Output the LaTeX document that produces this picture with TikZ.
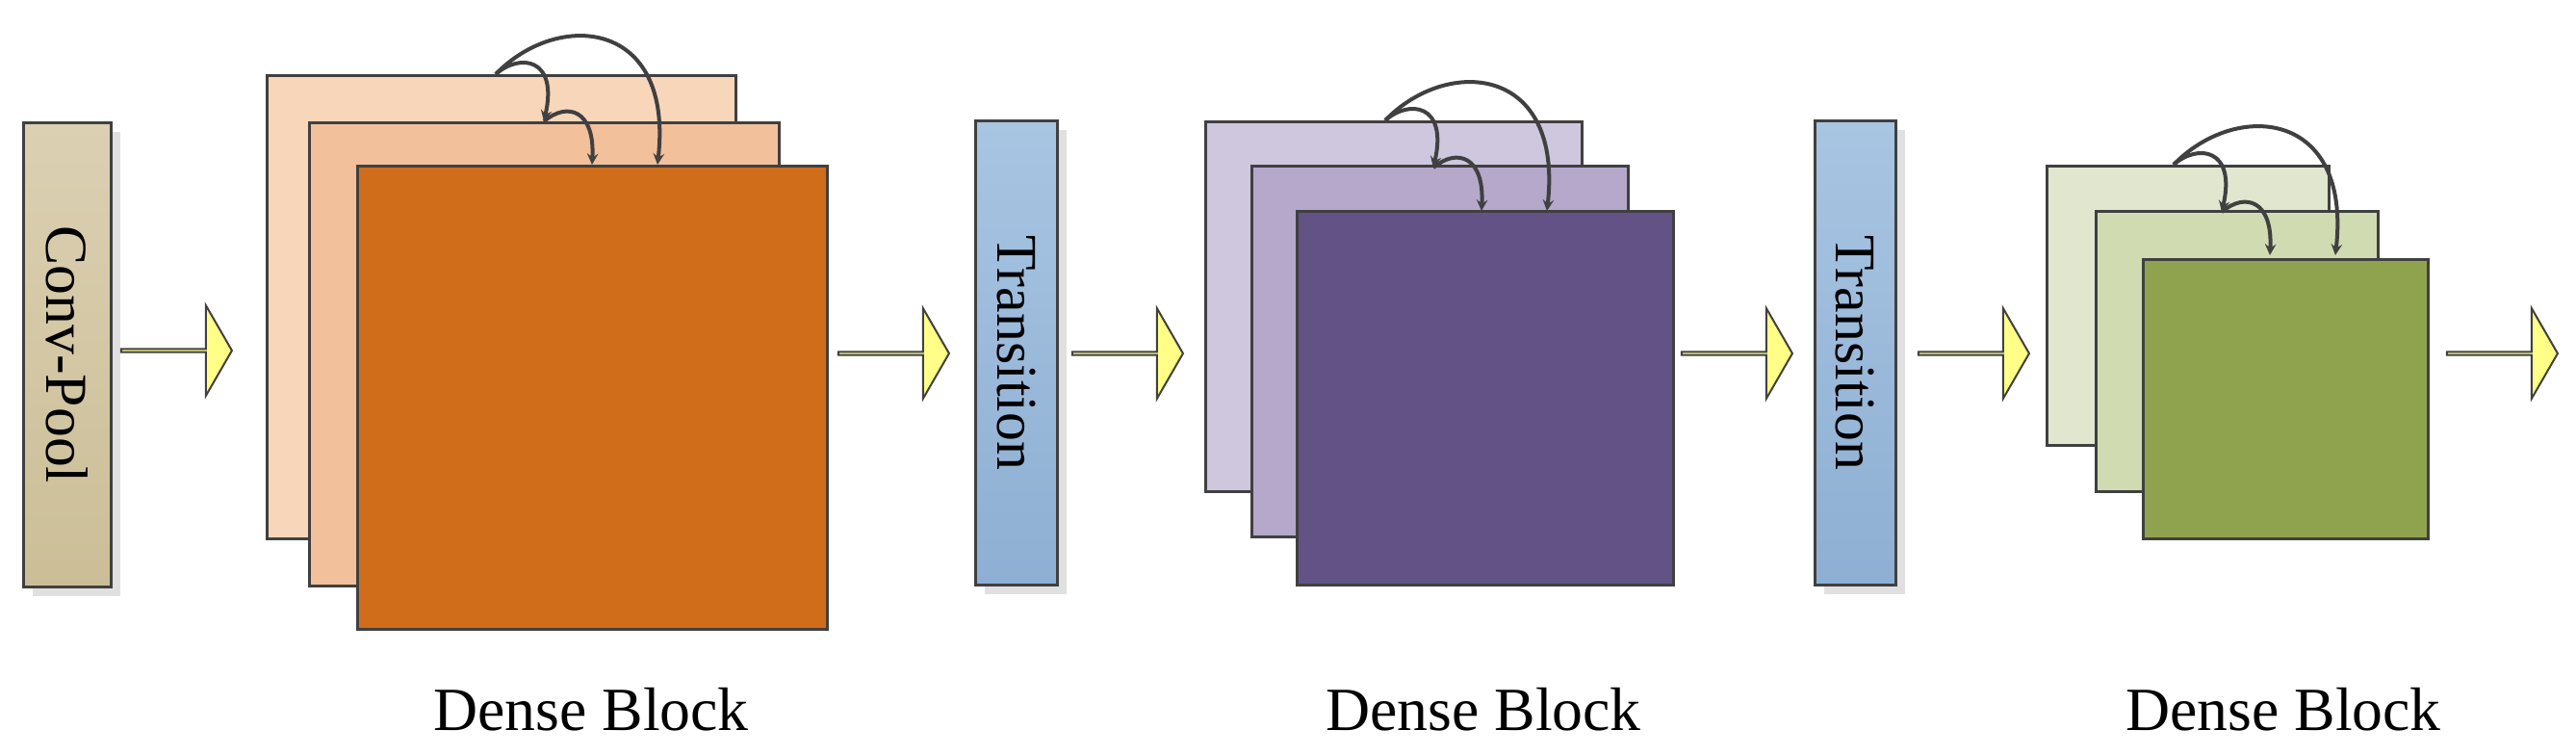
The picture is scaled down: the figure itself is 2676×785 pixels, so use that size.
\documentclass[tikz,border=0pt]{standalone}
\usepackage{fontspec}
\setmainfont{Liberation Serif}
\usetikzlibrary{positioning,calc,shapes.arrows,shadows}

\definecolor{edge}{HTML}{404040}
\definecolor{poolA}{HTML}{DBD0B2}
\definecolor{poolB}{HTML}{CBBE97}
\definecolor{transA}{HTML}{A8C5E2}
\definecolor{transB}{HTML}{8EAFD3}
\definecolor{arrowfill}{HTML}{FFFF88}
\definecolor{orA}{HTML}{F7D6BA}
\definecolor{orB}{HTML}{F2C09A}
\definecolor{orC}{HTML}{D06D1B}
\definecolor{vioA}{HTML}{CFC7DE}
\definecolor{vioB}{HTML}{B5A8CB}
\definecolor{vioC}{HTML}{635286}
\definecolor{grA}{HTML}{E1E7CF}
\definecolor{grB}{HTML}{D1DBB2}
\definecolor{grC}{HTML}{8FA34F}

\tikzset{
  bar/.style={draw=edge,line width=2.5bp,anchor=north west,inner sep=0pt,
    minimum width=#1,minimum height=482bp,
    drop shadow={shadow xshift=10bp,shadow yshift=-10bp,fill=black!12,opacity=1}},
  layer/.style={draw=edge,line width=2.5bp,anchor=north west,inner sep=0pt},
  flow/.style={single arrow,draw=edge,line width=2bp,fill=arrowfill,inner sep=0pt,
    minimum height=115bp,minimum width=94bp,single arrow head extend=30bp,
    single arrow tip angle=120},
  skip/.style={->,>=stealth,draw=edge,line width=4bp},
  caption/.style={font=\fontsize{64}{70}\selectfont}
}

\begin{document}
\begin{tikzpicture}[x=1bp,y=-1bp]
\useasboundingbox (0,0) rectangle (2676,785);

% input and transitions
\node[bar=91bp,top color=poolA,bottom color=poolB] (pool) at (23,126)
  {\rotatebox{-90}{\fontsize{62}{70}\selectfont Conv-Pool}};
\node[bar=85bp,top color=transA,bottom color=transB] (trans1) at (1012,124)
  {\rotatebox{-90}{\fontsize{60}{70}\selectfont Transition}};
\node[bar=84bp,top color=transA,bottom color=transB] (trans2) at (1884,124)
  {\rotatebox{-90}{\fontsize{60}{70}\selectfont Transition}};

% dense block 1
\node[layer,fill=orA,minimum width=487bp,minimum height=481bp] (b1a) at (276,77) {};
\node[layer,fill=orB,minimum width=488bp,minimum height=481bp] (b1b) at (320,126) {};
\node[layer,fill=orC,minimum width=488bp,minimum height=481bp] (b1c) at (370,171) {};
% dense block 2
\node[layer,fill=vioA,minimum width=391bp,minimum height=384bp] (b2a) at (1251,125) {};
\node[layer,fill=vioB,minimum width=391bp,minimum height=385bp] (b2b) at (1299,171) {};
\node[layer,fill=vioC,minimum width=391bp,minimum height=388bp] (b2c) at (1346,218) {};
% dense block 3
\node[layer,fill=grA,minimum width=293bp,minimum height=290bp] (b3a) at (2125,171) {};
\node[layer,fill=grB,minimum width=293bp,minimum height=291bp] (b3b) at (2176,218) {};
\node[layer,fill=grC,minimum width=296bp,minimum height=290bp] (b3c) at (2225,268) {};

% flow arrows
\node[flow] (f1) at (183,364) {};
\node[flow] (f2) at (928,367) {};
\node[flow] (f3) at (1171,367) {};
\node[flow] (f4) at (1804,367) {};
\node[flow] (f5) at (2050,367) {};
\node[flow] (f6) at (2599,367) {};

% skip connections
\foreach \blk/\sx in {b1a/239,b2a/188,b3a/133}{
  \coordinate (s) at ($(\blk.north west)+(\sx,0)$);
  \draw[skip] (s) .. controls ($(s)+(25,-22)$) and ($(s)+(65,-17)$) .. ($(s)+(50,49)$);
  \draw[skip] ($(s)+(50,49)$) .. controls ($(s)+(75,28)$) and ($(s)+(103,38)$) .. ($(s)+(100,94)$);
  \draw[skip] (s) .. controls ($(s)+(65,-67)$) and ($(s)+(185,-57)$) .. ($(s)+(168,94)$);
}

% captions
\node[caption] (cap1) at (614,737) {Dense Block};
\node[caption] (cap2) at (1541,737) {Dense Block};
\node[caption] (cap3) at (2372,737) {Dense Block};
\end{tikzpicture}
\end{document}
